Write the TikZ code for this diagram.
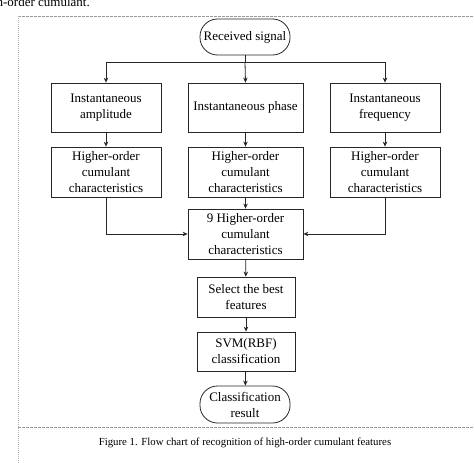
\documentclass[tikz,border=0pt]{standalone}
\usepackage{fontspec}
\setmainfont{Liberation Serif}
\usetikzlibrary{arrows.meta}
\begin{document}
\begin{tikzpicture}[x=1pt,y=-1pt,
  box/.style={draw=black!85, line width=0.8pt, align=center, inner sep=1pt,
    font=\fontsize{13}{16}\selectfont},
  term/.style={box, rounded corners=17.5pt},
  arr/.style={draw=black!85, line width=0.8pt, -{Stealth[length=5pt,width=4.5pt]}},
  ln/.style={draw=black!85, line width=0.8pt},
  frame/.style={draw=gray!80, line width=0.6pt, dash pattern=on 2.5pt off 1.5pt},
  framev/.style={draw=gray!60, line width=0.8pt, dash pattern=on 1pt off 1pt}]
\useasboundingbox (0,0) rectangle (474,463);
\clip (0,0) rectangle (474,463);
\fill[white] (0,0) rectangle (474,463);
% partial text at top
\node[anchor=base east, inner sep=0pt, font=\fontsize{13}{16}\selectfont] (toptxt) at (90,6) {high-order cumulant.};
% frame
\coordinate (ftl) at (18,16);
\coordinate (ftr) at (474,16);
\coordinate (fbl) at (18,463);
\coordinate (fml) at (18,427);
\coordinate (fmr) at (474,427);
\draw[frame] (ftl) -- (ftr);
\draw[frame] (fml) -- (fmr);
\draw[framev] (ftl) -- (fbl);
% nodes
\node[term, minimum width=90pt, minimum height=36pt] (rs) at (245,37) {Received signal};
\node[box, minimum width=110pt, minimum height=49pt] (amp) at (106,107.5) {Instantaneous\\amplitude};
\node[box, minimum width=115pt, minimum height=49pt] (phase) at (245.5,107.5) {Instantaneous phase};
\node[box, minimum width=110pt, minimum height=49pt] (freq) at (385,107.5) {Instantaneous\\frequency};
\node[box, minimum width=110pt, minimum height=50pt] (hoa) at (106,172) {Higher-order\\cumulant\\characteristics};
\node[box, minimum width=115pt, minimum height=50pt] (hop) at (245.5,172) {Higher-order\\cumulant\\characteristics};
\node[box, minimum width=110pt, minimum height=50pt] (hof) at (385,172) {Higher-order\\cumulant\\characteristics};
\node[box, minimum width=115pt, minimum height=50pt] (nine) at (245.5,234) {9 Higher-order\\cumulant\\characteristics};
\node[box, minimum width=98pt, minimum height=40pt] (sel) at (246,297) {Select the best\\features};
\node[box, minimum width=98pt, minimum height=39pt] (svm) at (246,351.5) {SVM(RBF)\\classification};
\node[term, minimum width=90pt, minimum height=37pt] (cr) at (245,404.5) {Classification\\result};
\node[font=\fontsize{10.8}{12}\selectfont, inner sep=0pt] (cap) at (245,443) {Figure 1. Flow chart of recognition of high-order cumulant features};
% connectors
\coordinate (br) at (245,62);
\draw[ln] (rs.south) -- (br);
\draw[arr] (br) -| (amp.north);
\draw[arr] (br) -| (freq.north);
\draw[arr] (br) -- (phase.north);
\draw[arr] (amp) -- (hoa);
\draw[arr] (phase) -- (hop);
\draw[arr] (freq) -- (hof);
\draw[arr] (hop) -- (nine);
\draw[arr] (hoa.south) |- (nine.west);
\draw[arr] (hof.south) |- (nine.east);
\draw[arr] (nine) -- (sel);
\draw[arr] (sel) -- (svm);
\draw[arr] (svm) -- (cr);
\end{tikzpicture}
\end{document}
